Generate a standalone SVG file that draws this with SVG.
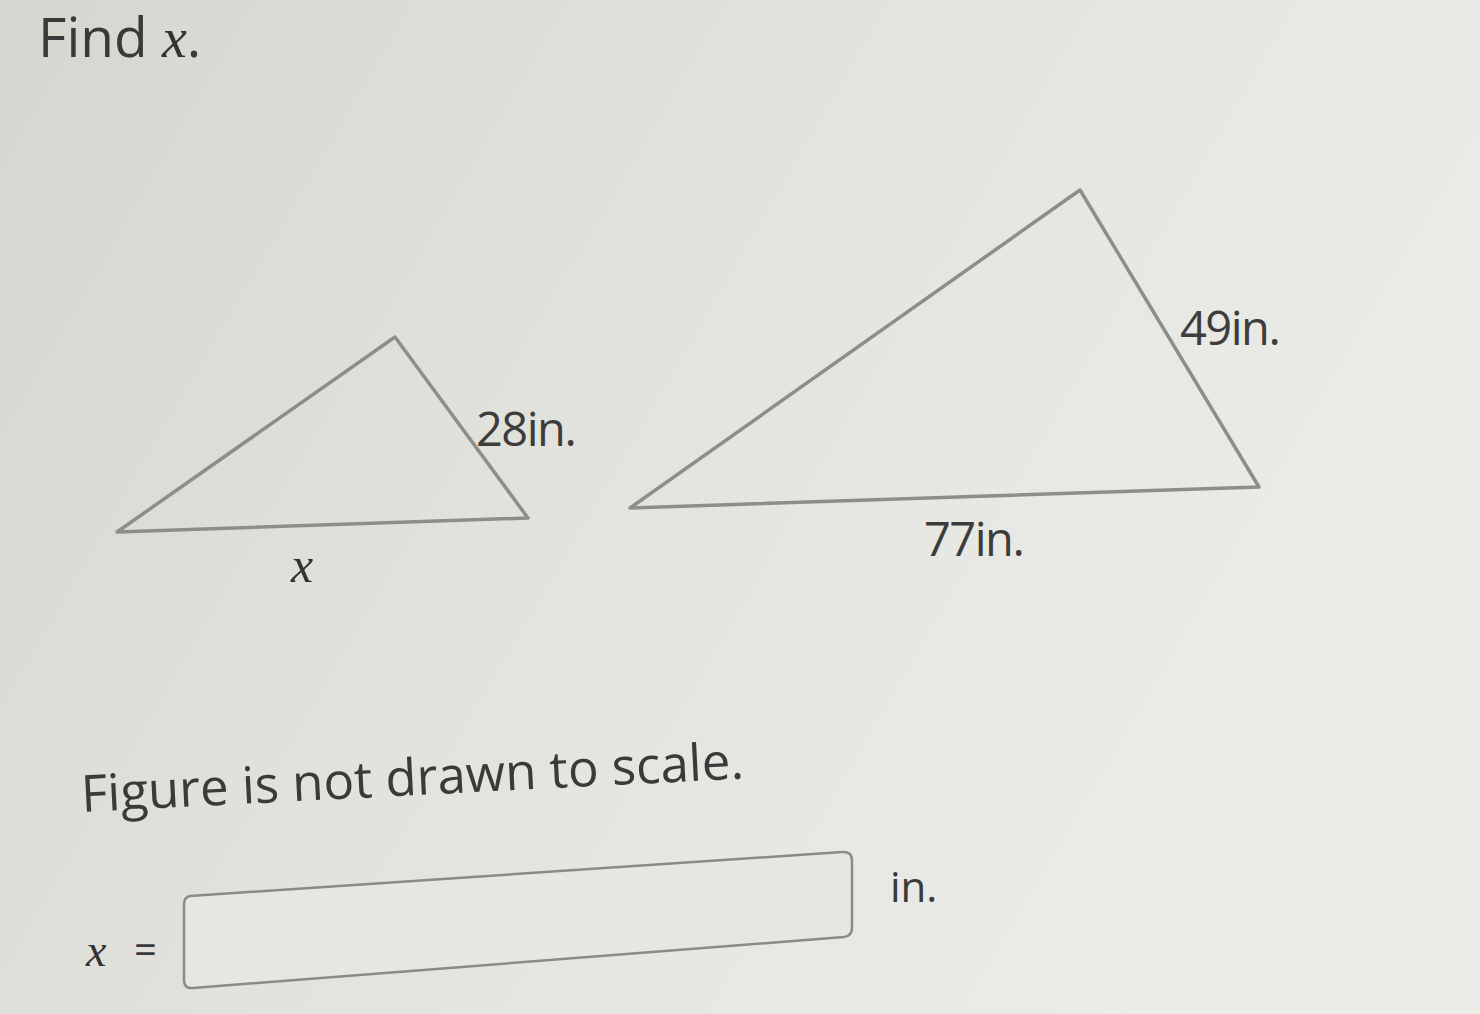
<svg xmlns="http://www.w3.org/2000/svg" width="1480" height="1014" viewBox="0 0 1480 1014">
<defs>
<linearGradient id="bg" x1="0" y1="0" x2="1" y2="0.4">
<stop offset="0" stop-color="#d6d6d0"/>
<stop offset="0.5" stop-color="#e3e3de"/>
<stop offset="1" stop-color="#ebebe8"/>
</linearGradient>
<style>
.tri{fill:none;stroke:#8d8d8a;stroke-width:3.5;stroke-linejoin:round}
.lbl{font-family:"Open Sans","Liberation Sans",sans-serif;font-size:47px;fill:#3c3c3c}
.var{font-family:"Liberation Serif","DejaVu Serif",serif;font-style:italic;fill:#333}
.txt{font-family:"Open Sans","Liberation Sans",sans-serif;fill:#3a3a3a}
</style>
</defs>
<rect x="0" y="0" width="1480" height="1014" fill="url(#bg)"/>
<g id="title">
<text class="txt" x="38" y="57" font-size="55">Find <tspan class="var" font-size="56">x</tspan>.</text>
</g>
<g id="small-triangle">
<polygon class="tri" points="117,532 395,337 528,518"/>
<text class="lbl" x="476" y="446" letter-spacing="-1.5">28in.</text>
<text class="var" x="291" y="582" font-size="50">x</text>
</g>
<g id="large-triangle">
<polygon class="tri" points="630,508 1080,190 1259,487"/>
<text class="lbl" x="1180" y="345" letter-spacing="-1.5">49in.</text>
<text class="lbl" x="924" y="556" letter-spacing="-1.5">77in.</text>
</g>
<g id="note">
<text class="txt" x="82" y="812" font-size="51" transform="rotate(-2.9 82 812)">Figure is not drawn to scale.</text>
</g>
<g id="answer">
<text class="var" x="86" y="966" font-size="46">x</text>
<text class="txt" x="134" y="964" font-size="40">=</text>
<path d="M190,896 L842,852 Q852,851 852,861 L852,928 Q852,936 844,937 L193,988 Q184,989 184,980 L184,905 Q184,897 190,896 Z" fill="#e6e6e2" stroke="#8a8a86" stroke-width="2.5"/>
<text class="txt" x="890" y="902" font-size="42">in.</text>
</g>
</svg>
